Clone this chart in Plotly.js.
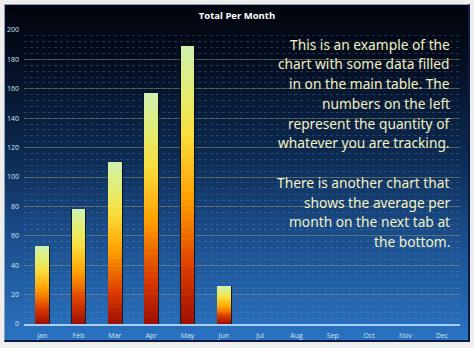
<!DOCTYPE html>
<html>
<head>
<meta charset="utf-8">
<script src="https://cdn.plot.ly/plotly-3.0.1.min.js"></script>
<style>
  html, body { margin:0; padding:0; background:#eeeeee; width:474px; height:348px; overflow:hidden; }
  #box { position:absolute; left:4px; top:4px; width:463px; height:335px;
         border-left:1px solid #8aa0b8; border-top:1px solid #8aa0b8;
         border-right:2px solid #0a1a40; border-bottom:2px solid #0a1a40;
         background: linear-gradient(to bottom, #01040c 0%, #040c1e 15%, #0c2a52 45%, #1b4f8e 70%, #2a73c2 100%); }
  #chart { position:absolute; left:0; top:0; width:474px; height:348px; }
</style>
</head>
<body>
<div id="box"></div>
<div id="chart"></div>
<script>
const chartTitle = "Total Per Month";
const months = ["Jan","Feb","Mar","Apr","May","Jun","Jul","Aug","Sep","Oct","Nov","Dec"];
const totals = [53, 78, 110, 157, 189, 26, null, null, null, null, null, null];
const yTicks = [0, 20, 40, 60, 80, 100, 120, 140, 160, 180, 200];
const noteLines = [
  "This is an example of the",
  "chart with some data filled",
  "in on the main table. The",
  "numbers on the left",
  "represent the quantity of",
  "whatever you are tracking.",
  "",
  "There is another chart that",
  "shows the average per",
  "month on the next tab at",
  "the bottom."
];

// gradient stops for the bars (0 = bottom of bar, 1 = top)
const stops = [[0,[156,14,0]],[0.2,[220,60,0]],[0.45,[255,160,0]],[0.68,[250,222,60]],[0.85,[226,238,120]],[1,[208,240,176]]];
function colorAt(t){
  for (let i=1;i<stops.length;i++){
    if (t<=stops[i][0]){
      const a=stops[i-1], b=stops[i], f=(t-a[0])/(b[0]-a[0]);
      const c=a[1].map((v,k)=>Math.round(v+(b[1][k]-v)*f));
      return `rgb(${c[0]},${c[1]},${c[2]})`;
    }
  }
  const c=stops[stops.length-1][1]; return `rgb(${c[0]},${c[1]},${c[2]})`;
}

const N = 40;
const traces = [];
// dark shadow bars behind (base axes)
traces.push({
  type:'bar', x:months, y:totals, xaxis:'x', yaxis:'y',
  width:0.42, offset:-0.2,
  marker:{color:'rgba(5,10,20,0.8)', line:{width:0}},
  hoverinfo:'skip', showlegend:false
});
// gradient bars as stacked slices (overlay axes)
for (let i=0;i<N;i++){
  traces.push({
    type:'bar', x:months, y:totals.map(v=>v==null?null:v/N),
    xaxis:'x2', yaxis:'y2', width:0.38,
    marker:{color:colorAt((i+0.5)/N), line:{width:0}},
    hoverinfo:'skip', showlegend:false
  });
}

const pxY = py => (324 - py)/294;
const annotations = noteLines.map((t,i)=>({
  text:t, xref:'paper', yref:'paper', x:(452-24)/436, y:pxY(44 + 19.75*i),
  xanchor:'right', yanchor:'middle', showarrow:false,
  font:{family:'Noto Sans, Open Sans, sans-serif', size:13.75, color:'#f4f2c4'}
}));

const layout = {
  width:474, height:348,
  paper_bgcolor:'rgba(0,0,0,0)', plot_bgcolor:'rgba(0,0,0,0)',
  margin:{l:24, r:14, t:30, b:24},
  barmode:'stack',
  title:{text:'<b>'+chartTitle+'</b>', x:0.5, xanchor:'center', y:1-16/348, yanchor:'middle',
         font:{family:'Open Sans, sans-serif', size:9.5, color:'#ffffff'}},
  showlegend:false,
  xaxis:{type:'category', categoryorder:'array', categoryarray:months, range:[-0.5,11.5],
         showgrid:false, zeroline:false, showline:true, linecolor:'#a8d0f4', linewidth:1.5,
         ticks:'', tickfont:{family:'Open Sans, sans-serif', size:7, color:'#d4e2f0'}, ticklabelstandoff:4},
  yaxis:{range:[0,200], tickvals:yTicks, showgrid:true, gridcolor:'rgba(150,150,100,0.45)', gridwidth:1,
         zeroline:false, showline:false, ticks:'',
         tickfont:{family:'Open Sans, sans-serif', size:7, color:'#d4e2f0'}, ticklabelstandoff:4,
         minor:{dtick:4, showgrid:true, gridcolor:'rgba(140,165,200,0.25)', griddash:'dot', gridwidth:1}},
  xaxis2:{type:'category', categoryorder:'array', categoryarray:months, range:[-0.5,11.5], overlaying:'x',
          showgrid:false, zeroline:false, showline:false, showticklabels:false, ticks:''},
  yaxis2:{range:[0,200], overlaying:'y', showgrid:false, zeroline:false, showline:false, showticklabels:false, ticks:''},
  annotations:annotations
};

Plotly.newPlot('chart', traces, layout, {staticPlot:true, displayModeBar:false});
</script>
</body>
</html>
